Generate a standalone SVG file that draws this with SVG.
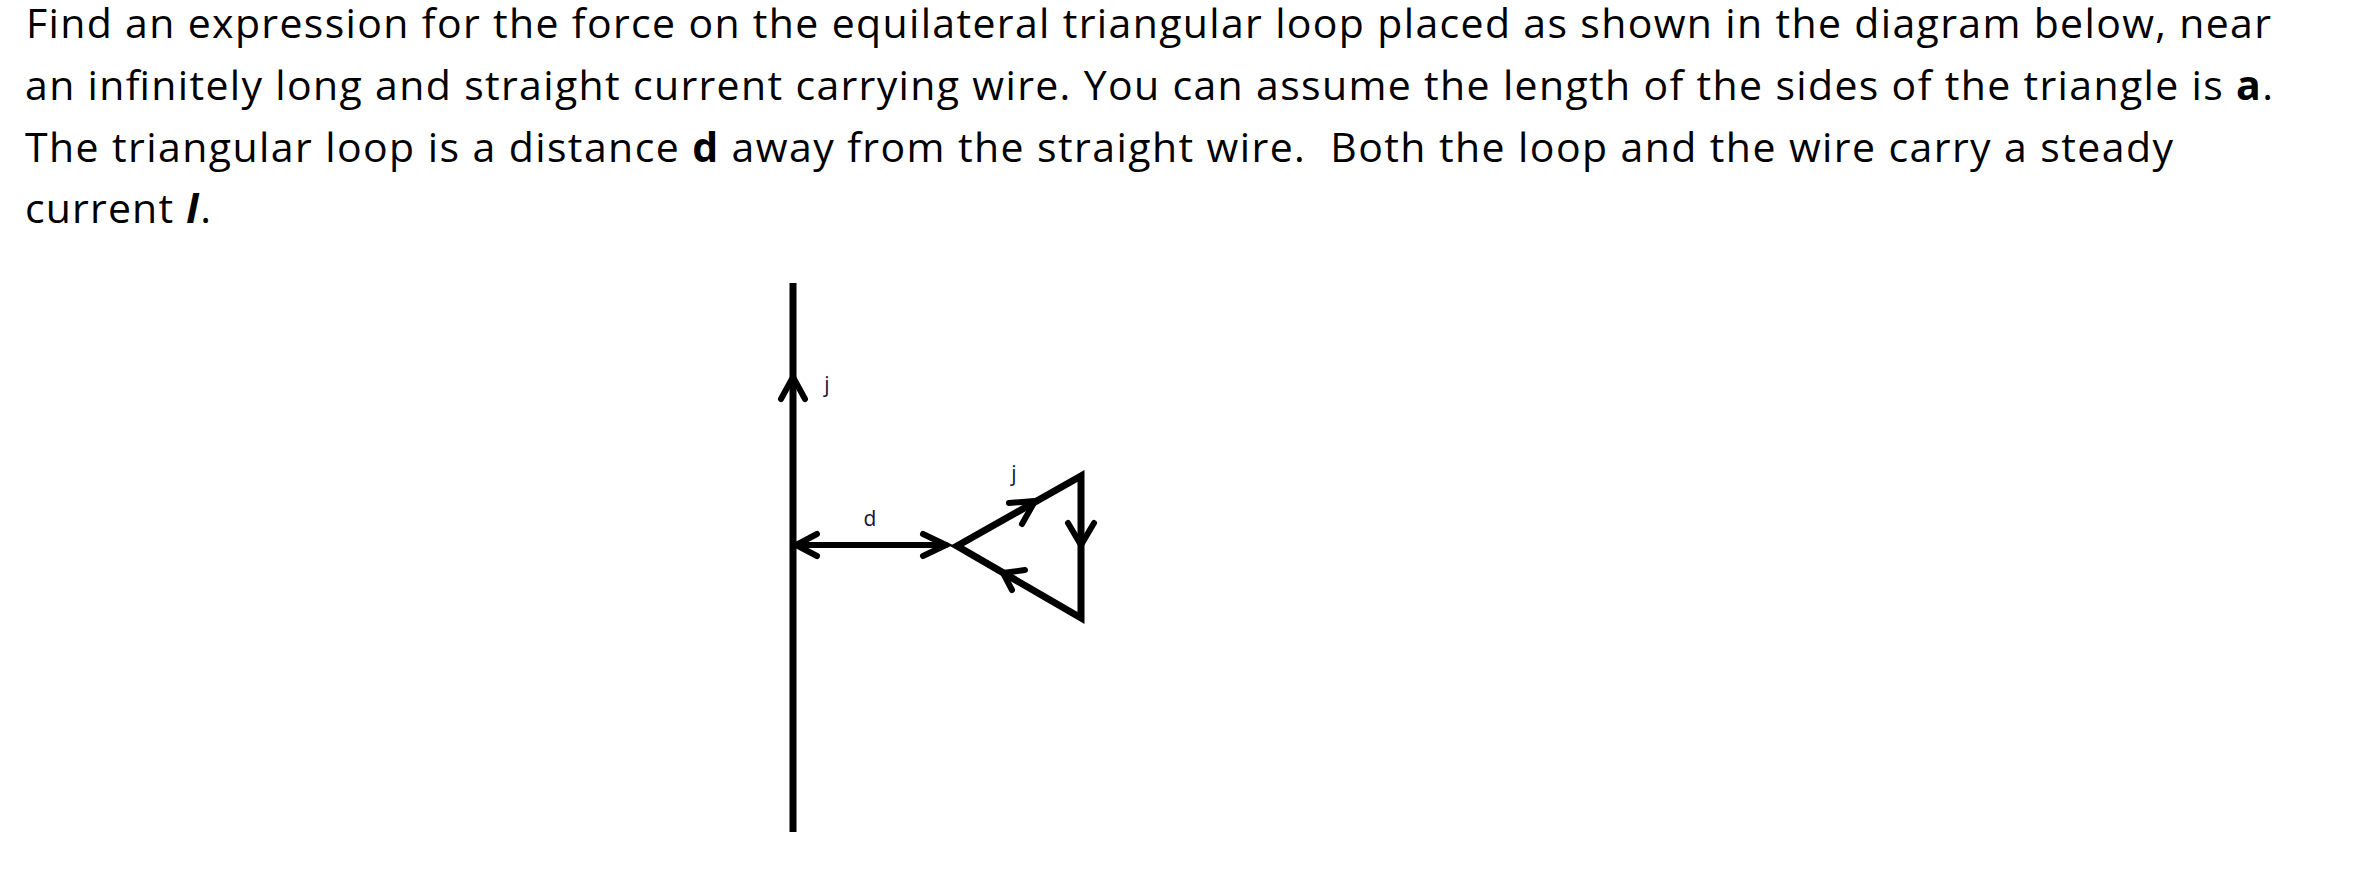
<svg xmlns="http://www.w3.org/2000/svg" width="2373" height="879" viewBox="0 0 2373 879">
<style>
.q{font-family:"Open Sans","Liberation Sans",sans-serif;font-size:41px;fill:#000;white-space:pre}
.b{font-weight:bold}
.lbl{font-family:"Open Sans","Liberation Sans",sans-serif;font-size:21px;fill:#141436}
.ln{stroke:#000;stroke-width:7;fill:none}
.ah{stroke:#000;stroke-width:6;fill:none;stroke-linecap:round;stroke-linejoin:miter}
</style>
<rect width="2373" height="879" fill="#fff"/>
<g id="question">
<text class="q" x="26" y="38" textLength="2245" lengthAdjust="spacing">Find an expression for the force on the equilateral triangular loop placed as shown in the diagram below, near</text>
<text class="q" x="25" y="100" textLength="2248" lengthAdjust="spacing">an infinitely long and straight current carrying wire. You can assume the length of the sides of the triangle is <tspan class="b">a</tspan>.</text>
<text class="q" x="25" y="162" textLength="2148" lengthAdjust="spacing">The triangular loop is a distance <tspan class="b">d</tspan> away from the straight wire.  Both the loop and the wire carry a steady</text>
<text class="q" x="25" y="223" textLength="186" lengthAdjust="spacing">current <tspan class="b" font-style="italic">I</tspan>.</text>
</g>
<g id="wire">
<line class="ln" x1="793" y1="283" x2="793" y2="832"/>
<polyline class="ah" points="781,399 793,377 805,399"/>
<text class="lbl" x="827" y="392" text-anchor="middle">j</text>
</g>
<g id="loop">
<polygon class="ln" points="957,546 1081,476 1081,618" stroke-linejoin="miter"/>
<polyline class="ah" points="1009,503 1035,501 1022,524"/>
<polyline class="ah" points="1068,523 1081,545 1094,523"/>
<polyline class="ah" points="1025,570 1003,573 1012,590"/>
<text class="lbl" x="1014" y="481" text-anchor="middle">j</text>
</g>
<g id="connectors">
<line class="ah" x1="794" y1="545" x2="946" y2="545"/>
<polyline class="ah" points="817,534 796,545 817,556"/>
<polyline class="ah" points="923,534 946,545 923,556"/>
<text class="lbl" x="870" y="526" text-anchor="middle">d</text>
</g>
</svg>
